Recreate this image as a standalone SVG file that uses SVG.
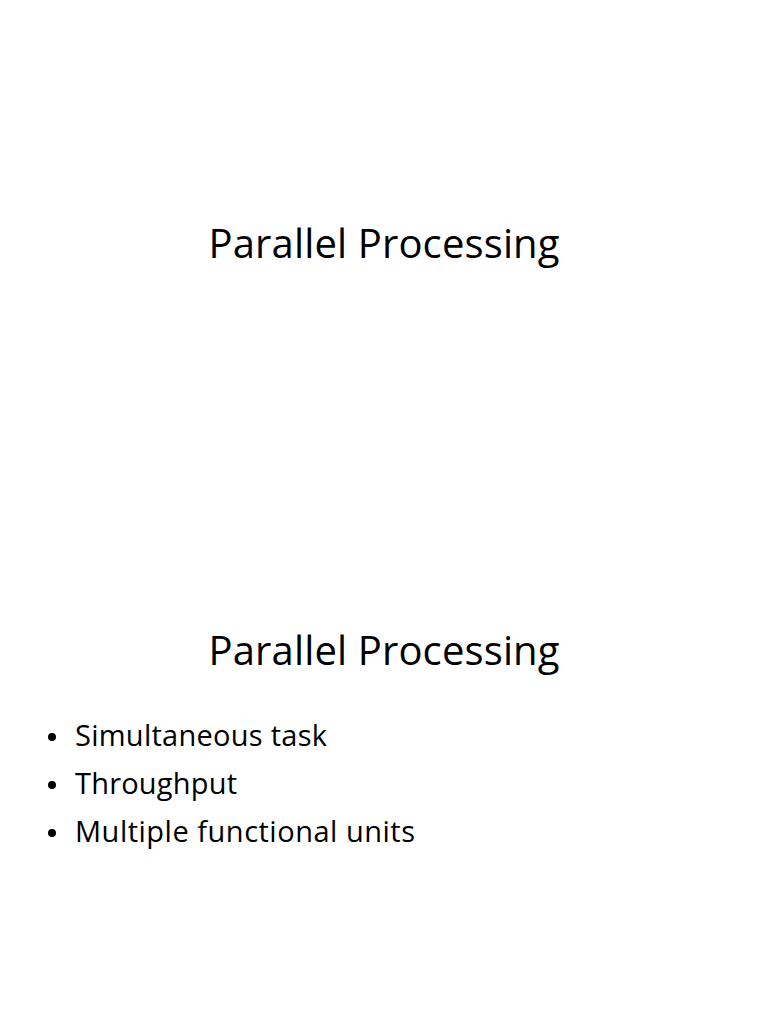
<svg xmlns="http://www.w3.org/2000/svg" width="768" height="1024" viewBox="0 0 768 1024">
<style>
text{font-family:"Open Sans","Noto Sans",sans-serif;fill:#000}
.t{font-size:40px;text-anchor:middle}
.b{font-size:29px}
</style>
<rect width="768" height="1024" fill="#fff"/>
<g id="slide1"><text class="t" x="384" y="258" textLength="351">Parallel Processing</text></g>
<g id="slide2">
<text class="t" x="384" y="665" textLength="351">Parallel Processing</text>
<circle cx="52" cy="737" r="4"/><text class="b" x="75" y="746" textLength="252">Simultaneous task</text>
<circle cx="52" cy="785" r="4"/><text class="b" x="75" y="794" textLength="162">Throughput</text>
<circle cx="52" cy="833" r="4"/><text class="b" x="75" y="842" textLength="340">Multiple functional units</text>
</g>
</svg>
